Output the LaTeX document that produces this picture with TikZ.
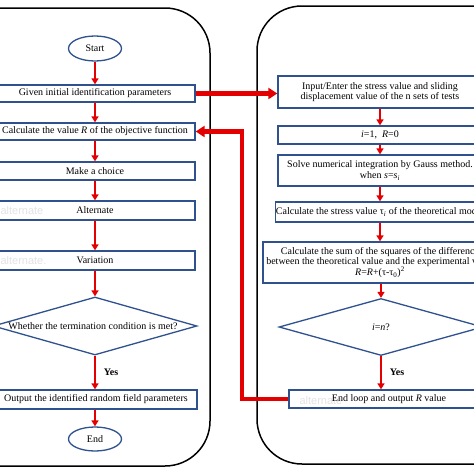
\documentclass[tikz,border=0pt]{standalone}
\usepackage{fontspec}
\setmainfont{Liberation Serif}
\setsansfont{Liberation Sans}
\usetikzlibrary{shapes.geometric,arrows.meta}
\definecolor{bblue}{RGB}{47,82,143}
\definecolor{rred}{RGB}{228,0,0}
\begin{document}
\begin{tikzpicture}[x=1pt,y=-1pt,
 txt/.style={font=\fontsize{10}{10.6}\selectfont},
 box/.style={txt,draw=bblue,line width=1.3pt,inner sep=0.5pt,align=center},
 oval/.style={txt,ellipse,draw=bblue,line width=1.3pt,minimum width=53pt,minimum height=25pt,inner sep=0pt},
 dia/.style={diamond,draw=bblue,line width=1.3pt,inner sep=0pt},
 flow/.style={draw=rred,line width=2.6pt,-{Triangle[width=7pt,length=6pt]}},
 link/.style={draw=rred,line width=4.5pt,-{Triangle[width=11pt,length=9pt]}},
 panel/.style={draw=black,line width=1.5pt,rounded corners=45pt},
 ghost/.style={text=black!11,font=\sffamily\fontsize{11}{12}\selectfont},
 yes/.style={font=\bfseries\fontsize{10}{11}\selectfont}]
\useasboundingbox (0,0) rectangle (474,474);
\fill[white] (0,0) rectangle (474,474);
% panels
\draw[panel] (-60,8) -- (210,8) -- (210,466) -- (-60,466);
\draw[panel] (540,6) -- (257,6) -- (257,464) -- (540,464);
% ghost texts
\node[ghost,anchor=west] (g1) at (-3,211) {alternate};
\node[ghost,anchor=west] (g2) at (-3,261) {alternate.};
\node[ghost,anchor=west] (g3) at (296,401) {alternate};
% left flow
\node[oval] (start) at (95,48.5) {Start};
\node[box,minimum width=200pt,minimum height=17pt] (b1) at (95,93.5) {Given initial identification parameters};
\node[box,minimum width=200pt,minimum height=17pt] (b2) at (95,131.5) {Calculate the value \textit{R} of the objective function};
\node[box,minimum width=200pt,minimum height=18pt] (b3) at (95,171) {Make a choice};
\node[box,minimum width=200pt,minimum height=19pt] (b4) at (95,210.5) {Alternate};
\node[box,minimum width=200pt,minimum height=19pt] (b5) at (95,260.5) {Variation};
\node[dia,minimum width=204pt,minimum height=58pt] (d1) at (95,326) {};
\node[txt] (d1t) at (93,326) {Whether the termination condition is met?};
\node[box,minimum width=202pt,minimum height=19pt] (b6) at (96,399.5) {Output the identified random field parameters};
\node[oval,minimum height=24pt] (end) at (95,439) {End};
\node[yes] (y1) at (111,372) {Yes};
\draw[flow] (start) -- (b1);
\draw[flow] (b1) -- (b2);
\draw[flow] (b2) -- (b3);
\draw[flow] (b3) -- (b4);
\draw[flow] (b4) -- (b5);
\draw[flow] (b5) -- (d1.north);
\draw[flow] (d1.south) -- (d1.south |- b6.north);
\draw[flow] (b6.south -| end.north) -- (end.north);
% right flow
\node[box,minimum width=204pt,minimum height=32pt] (r1) at (380,92) {Input/Enter the stress value and sliding\\displacement value of the n sets of tests};
\node[box,minimum width=204pt,minimum height=18pt] (r2) at (380,135) {\textit{i}=1,\ \ \textit{R}=0};
\node[box,minimum width=204pt,minimum height=31pt] (r3) at (380,170.5) {Solve numerical integration by Gauss method.\\when \textit{s}=\textit{s\textsubscript{i}}};
\node[box,minimum width=206pt,minimum height=20pt] (r4) at (380,212) {Calculate the stress value τ\textsubscript{\textit{i}} of the theoretical model};
\node[box,minimum width=234pt,minimum height=41pt,inner sep=0pt] (r5) at (380,262.5) {Calculate the sum of the squares of the difference\\between the theoretical value and the experimental value\\\textit{R}=\textit{R}+(τ-τ\textsubscript{0})\textsuperscript{2}};
\node[dia,minimum width=204pt,minimum height=57pt] (d2) at (381,327) {};
\node[txt] (d2t) at (381,327) {\textit{i}=\textit{n}?};
\node[box,minimum width=200pt,minimum height=18pt] (r6) at (389,399) {End loop and output \textit{R} value};
\node[yes] (y2) at (397,372) {Yes};
\draw[flow] (r1) -- (r2);
\draw[flow] (r2) -- (r3);
\draw[flow] (r3) -- (r4);
\draw[flow] (r4) -- (r5);
\draw[flow] (r5.south -| d2.north) -- (d2.north);
\draw[flow] (d2.south) -- (d2.south |- r6.north);
% links between panels
\coordinate (lp) at (242,0);
\draw[link] (b1.east) -- (b1.east -| r1.west);
\draw[link] (r6.west) -- (r6.west -| lp) -- (lp |- b2.east) -- (b2.east);
\end{tikzpicture}
\end{document}
